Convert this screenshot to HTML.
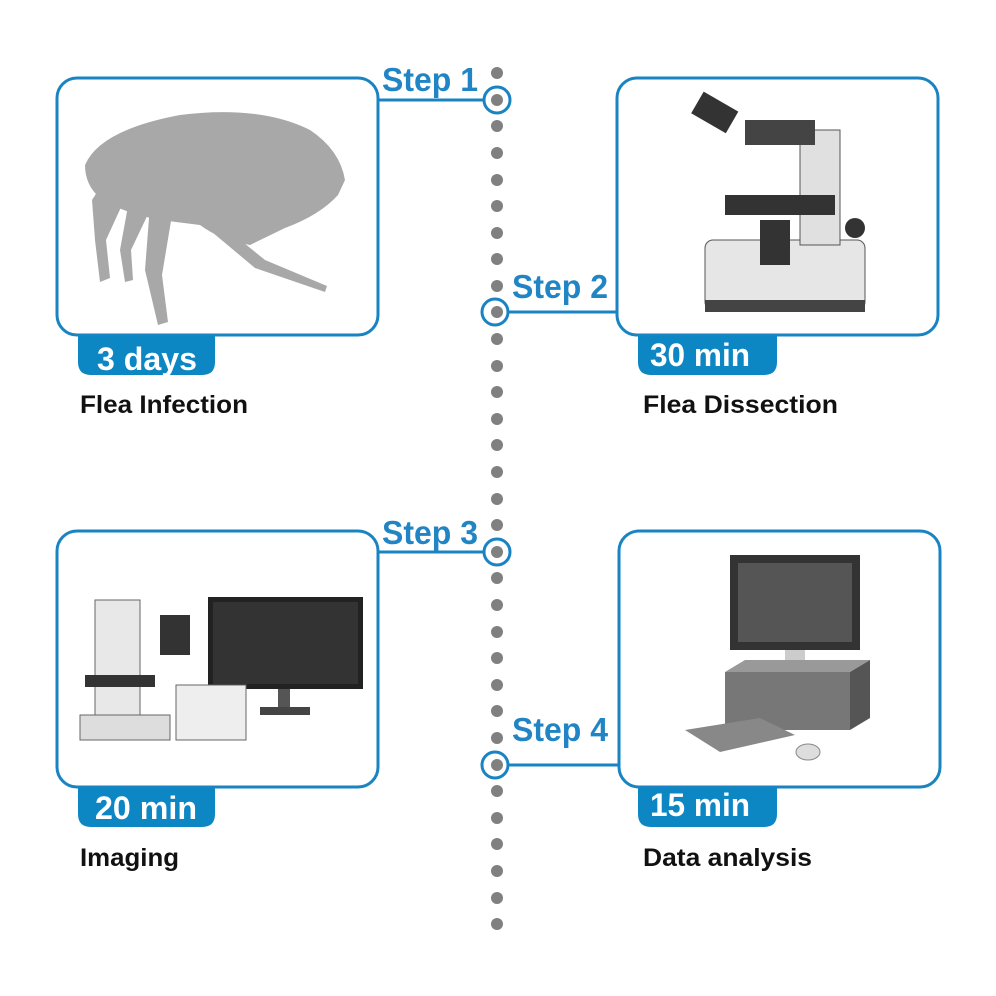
<!DOCTYPE html>
<html><head><meta charset="utf-8"><style>
html,body{margin:0;padding:0;background:#fff;}
body{width:996px;height:996px;position:relative;overflow:hidden;font-family:"Liberation Sans",Arial,sans-serif;}
</style></head><body>
<svg width="996" height="996" viewBox="0 0 996 996" xmlns="http://www.w3.org/2000/svg" style="position:absolute;left:0;top:0">
<g fill="#808080">
<circle cx="497" cy="73" r="6"/><circle cx="497" cy="100" r="6"/><circle cx="497" cy="126" r="6"/><circle cx="497" cy="153" r="6"/><circle cx="497" cy="180" r="6"/><circle cx="497" cy="206" r="6"/><circle cx="497" cy="233" r="6"/><circle cx="497" cy="259" r="6"/><circle cx="497" cy="286" r="6"/><circle cx="497" cy="312" r="6"/><circle cx="497" cy="339" r="6"/><circle cx="497" cy="366" r="6"/><circle cx="497" cy="392" r="6"/><circle cx="497" cy="419" r="6"/><circle cx="497" cy="445" r="6"/><circle cx="497" cy="472" r="6"/><circle cx="497" cy="499" r="6"/><circle cx="497" cy="525" r="6"/><circle cx="497" cy="552" r="6"/><circle cx="497" cy="578" r="6"/><circle cx="497" cy="605" r="6"/><circle cx="497" cy="632" r="6"/><circle cx="497" cy="658" r="6"/><circle cx="497" cy="685" r="6"/><circle cx="497" cy="711" r="6"/><circle cx="497" cy="738" r="6"/><circle cx="497" cy="765" r="6"/><circle cx="497" cy="791" r="6"/><circle cx="497" cy="818" r="6"/><circle cx="497" cy="844" r="6"/><circle cx="497" cy="871" r="6"/><circle cx="497" cy="898" r="6"/><circle cx="497" cy="924" r="6"/>
</g>
<g fill="none" stroke="#1a84c3" stroke-width="3">
<rect x="57" y="78" width="321" height="257" rx="20"/>
<rect x="617" y="78" width="321" height="257" rx="20"/>
<rect x="57" y="531" width="321" height="256" rx="20"/>
<rect x="619" y="531" width="321" height="256" rx="20"/>
<line x1="378" y1="100" x2="483" y2="100"/><circle cx="497" cy="100" r="13"/>
<line x1="509" y1="312" x2="617" y2="312"/><circle cx="495" cy="312" r="13"/>
<line x1="378" y1="552" x2="483" y2="552"/><circle cx="497" cy="552" r="13"/>
<line x1="509" y1="765" x2="619" y2="765"/><circle cx="495" cy="765" r="13"/>
</g>
<g fill="#0d86c4">
<path d="M78 336H215V362Q215 375 202 375H91Q78 375 78 362Z"/>
<path d="M638 336H777V362Q777 375 764 375H651Q638 375 638 362Z"/>
<path d="M78 788H215V814Q215 827 202 827H91Q78 827 78 814Z"/>
<path d="M638 788H777V814Q777 827 764 827H651Q638 827 638 814Z"/>
</g>
<g font-family="Liberation Sans, Arial, sans-serif" font-weight="bold">
<g fill="#2185c5" font-size="33">
<text x="382" y="91" textLength="96" lengthAdjust="spacingAndGlyphs">Step 1</text>
<text x="512" y="298" textLength="96" lengthAdjust="spacingAndGlyphs">Step 2</text>
<text x="382" y="544" textLength="96" lengthAdjust="spacingAndGlyphs">Step 3</text>
<text x="512" y="741" textLength="96" lengthAdjust="spacingAndGlyphs">Step 4</text>
</g>
<g fill="#fff" font-size="32">
<text x="97" y="370" textLength="100" lengthAdjust="spacingAndGlyphs">3 days</text>
<text x="650" y="366" textLength="100" lengthAdjust="spacingAndGlyphs">30 min</text>
<text x="95" y="819" textLength="102" lengthAdjust="spacingAndGlyphs">20 min</text>
<text x="650" y="816" textLength="100" lengthAdjust="spacingAndGlyphs">15 min</text>
</g>
<g fill="#111" font-size="25">
<text x="80" y="413" textLength="168" lengthAdjust="spacingAndGlyphs">Flea Infection</text>
<text x="643" y="413" textLength="195" lengthAdjust="spacingAndGlyphs">Flea Dissection</text>
<text x="80" y="866" textLength="99" lengthAdjust="spacingAndGlyphs">Imaging</text>
<text x="643" y="866" textLength="169" lengthAdjust="spacingAndGlyphs">Data analysis</text>
</g>
</g>
<!-- flea -->
<g fill="#a8a8a8">
<path d="M85 165Q100 130 180 115Q260 105 310 130Q340 150 345 180L338 195Q320 215 285 228L250 245Q220 240 200 225L160 220Q120 212 100 198Q85 185 85 165Z"/>
<path d="M105 180L92 200L95 240L100 282L110 278L106 240L122 205Z"/>
<path d="M130 195L120 250L125 282L133 280L131 250L150 210Z"/>
<path d="M150 205L145 270L158 325L168 322L162 275L172 215Z"/>
<path d="M200 222L255 268L325 292L327 286L265 260L218 222Z"/>
</g>
<!-- microscope 1 -->
<g>
<rect x="705" y="240" width="160" height="70" rx="8" fill="#e6e6e6" stroke="#555"/>
<rect x="705" y="300" width="160" height="12" fill="#444"/>
<rect x="800" y="130" width="40" height="115" fill="#e0e0e0" stroke="#555"/>
<rect x="725" y="195" width="110" height="20" fill="#333"/>
<rect x="745" y="120" width="70" height="25" fill="#444"/>
<rect x="695" y="100" width="40" height="25" fill="#333" transform="rotate(30 715 112)"/>
<rect x="760" y="220" width="30" height="45" fill="#333"/>
<circle cx="855" cy="228" r="10" fill="#333"/>
</g>
<!-- imaging -->
<g>
<rect x="208" y="597" width="155" height="92" fill="#222"/>
<rect x="213" y="602" width="145" height="82" fill="#333"/>
<rect x="278" y="689" width="12" height="18" fill="#555"/><rect x="260" y="707" width="50" height="8" fill="#444"/>
<rect x="176" y="685" width="70" height="55" fill="#eee" stroke="#666"/>
<rect x="95" y="600" width="45" height="130" fill="#e8e8e8" stroke="#666"/>
<rect x="80" y="715" width="90" height="25" fill="#ddd" stroke="#666"/>
<rect x="160" y="615" width="30" height="40" fill="#333"/>
<rect x="85" y="675" width="70" height="12" fill="#333"/>
</g>
<!-- computer -->
<g>
<rect x="730" y="555" width="130" height="95" fill="#333"/>
<rect x="738" y="563" width="114" height="79" fill="#555"/>
<rect x="785" y="650" width="20" height="20" fill="#ccc"/>
<path d="M725 672H850V730H725Z" fill="#777"/>
<path d="M725 672L745 660H870L850 672Z" fill="#999"/>
<path d="M850 672L870 660V718L850 730Z" fill="#555"/>
<path d="M685 730L760 718L795 735L720 752Z" fill="#888"/>
<ellipse cx="808" cy="752" rx="12" ry="8" fill="#ddd" stroke="#888"/>
</g>
</svg>
</body></html>
